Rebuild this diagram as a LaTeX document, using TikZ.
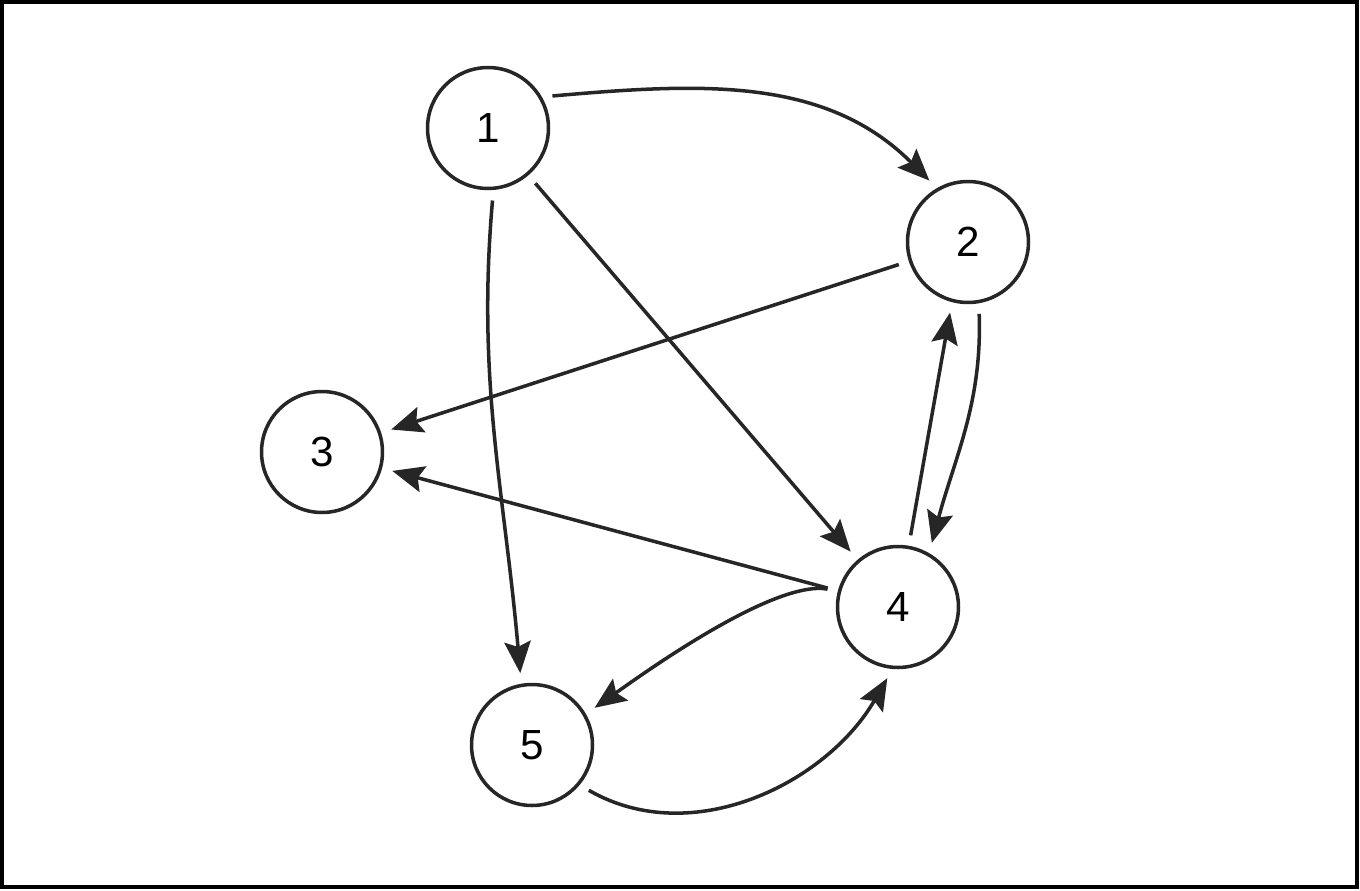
\documentclass[tikz,border=0pt]{standalone}
\usepackage{fontspec}
\setmainfont{Liberation Sans}
\usetikzlibrary{arrows.meta}
\begin{document}
\begin{tikzpicture}[x=0.02cm,y=-0.02cm,
  vert/.style={circle,draw=black!85,line width=2pt,minimum size=2.42cm,inner sep=0pt,font=\fontsize{24}{28}\selectfont},
  edge/.style={draw=black!85,line width=2pt,-{Stealth[length=18pt,width=15pt,inset=3pt]},shorten <=6pt,shorten >=6pt}]
\useasboundingbox (0,0) rectangle (1360,890);
\draw[line width=2pt] (2,2) rectangle (1357,887);
\node[vert] (n1) at (488,128) {1};
\node[vert] (n2) at (968,242) {2};
\node[vert] (n3) at (322,452) {3};
\node[vert] (n4) at (898,607) {4};
\node[vert] (n5) at (532,745) {5};
\draw[edge] (n1.30) to[out=5,in=135] (n2.120);
\draw[edge] (n1) -- (n4);
\draw[edge] (n1.-85) to[out=-95,in=95] (n5.100);
\draw[edge] (n2) -- (n3);
\draw[edge] (n2.-80) to[out=-88,in=75] (n4.60);
\draw[edge] (n4.80) -- (n2.-105);
\draw[edge] (n4) -- (n3);
\draw[edge] (n4.165) to[out=170,in=35,looseness=0.6] (n5.30);
\draw[edge] (n5.-40) to[out=-30,in=-120] (n4.-95);
\end{tikzpicture}
\end{document}
